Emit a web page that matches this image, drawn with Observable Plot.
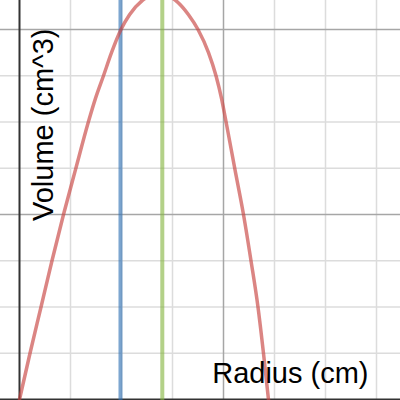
<!DOCTYPE html>
<html><head><meta charset="utf-8">
<script src="https://cdn.jsdelivr.net/npm/d3@7"></script>
<script src="https://cdn.jsdelivr.net/npm/@observablehq/plot@0.6"></script>
<style>html,body{margin:0;padding:0;background:#fff;overflow:hidden}</style>
</head><body><div id="chart"></div>
<script>
// Values (grid units)
const radius = [0, 0.206, 0.422, 0.637, 0.863, 1.098, 1.353, 1.490, 1.647, 1.804, 1.990, 2.157, 2.412, 2.735, 3.059, 3.314, 3.500, 3.706, 3.853, 3.961, 4.049, 4.225, 4.392, 4.539, 4.676, 4.784, 4.882];
const volume = [0, 1.0, 2.0, 3.0, 4.0, 4.97, 6.01, 6.51, 7.0, 7.5, 8.0, 8.32, 8.63, 8.77, 8.63, 8.32, 8.0, 7.5, 7.0, 6.51, 6.01, 4.97, 4.0, 3.0, 2.0, 1.0, 0];
const markerX = [1.98, 2.80];
const markerColors = ["#2d70b3", "#85b43f"];
const minorX = [1, 2, 3, 5, 6, 7];
const majorX = [4];
const minorY = [1, 2, 3, 5, 6, 7];
const majorY = [4, 8];
const xLabel = "Radius (cm)";
const yLabel = "Volume (cm^3)";

const curveData = radius.map((r, i) => ({r, v: volume[i]}));
const markers = markerX.map((x, i) => ({x, c: markerColors[i]}));
const font = "'Liberation Sans', Arial, sans-serif";

const chart = Plot.plot({
  width: 400,
  height: 400,
  margin: 0,
  style: {background: "#fff"},
  x: {domain: [-19 / 51, 381 / 51], axis: null},
  y: {domain: [-1 / 46.25, 399 / 46.25], axis: null},
  marks: [
    Plot.ruleX(minorX, {stroke: "#dcdcdc", strokeWidth: 1.5}),
    Plot.ruleY(minorY, {stroke: "#dcdcdc", strokeWidth: 1.5}),
    Plot.ruleX(majorX, {stroke: "#a6a6a6", strokeWidth: 1.5}),
    Plot.ruleY(majorY, {stroke: "#a6a6a6", strokeWidth: 1.5}),
    Plot.ruleX([0], {stroke: "#333", strokeWidth: 2}),
    Plot.ruleY([0], {stroke: "#333", strokeWidth: 2}),
    Plot.ruleX(markers, {x: "x", stroke: "c", strokeWidth: 4, strokeOpacity: 0.62}),
    Plot.line(curveData, {x: "r", y: "v", stroke: "#c74440", strokeWidth: 3.5, strokeOpacity: 0.65, curve: "monotone-x", clip: true}),
    Plot.text([xLabel], {text: d => d, frameAnchor: "bottom-right", textAnchor: "end", lineAnchor: "bottom", dx: -32, dy: -18, fontSize: 29, fontFamily: font, fill: "#000"}),
    Plot.text([yLabel], {text: d => d, frameAnchor: "top-left", textAnchor: "end", lineAnchor: "bottom", rotate: -90, dx: 52, dy: 28, fontSize: 29, fontFamily: font, fill: "#000"})
  ]
});
document.getElementById("chart").appendChild(chart);
</script>
</body></html>
